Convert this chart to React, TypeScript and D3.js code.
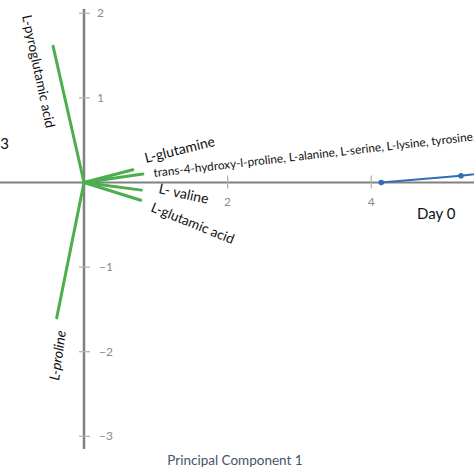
import React, { useEffect, useRef } from 'react';
import * as d3 from 'd3';

// loading vectors (PC1, PC3)
const loadingNames = ['L-pyroglutamic acid', 'L-proline', 'L-glutamine', 'trans-4-hydroxy-l-proline', 'L- valine', 'L-glutamic acid'];
const loadingX = [-0.43, -0.38, 0.68, 0.82, 0.8, 0.79];
const loadingY = [1.61, -1.6, 0.15, 0.1, -0.09, -0.21];

// sample trajectory
const dayX = [4.14, 5.25, 6.6];
const dayY = [0.0, 0.08, 0.2];

const xTicks = [2, 4];
const yTicks = [2, 1, -1, -2, -3];

const App = () => {
    const svgRef = useRef(null);

    useEffect(() => {
        const width = 474;
        const height = 474;
        const svg = d3.select(svgRef.current);
        svg.selectAll('*').remove();
        svg.attr('width', width).attr('height', height);

        const x = d3.scaleLinear().domain([0, 1]).range([84, 155.8]);
        const y = d3.scaleLinear().domain([0, 1]).range([182.5, 97.9]);
        const font = 'Lato, "Open Sans", sans-serif';
        const axisColor = '#808080';

        // axes
        svg.append('line')
            .attr('x1', 0).attr('x2', width)
            .attr('y1', y(0)).attr('y2', y(0))
            .attr('stroke', axisColor).attr('stroke-width', 2);
        svg.append('line')
            .attr('x1', x(0)).attr('x2', x(0))
            .attr('y1', y(2.05)).attr('y2', y(-3.15))
            .attr('stroke', axisColor).attr('stroke-width', 2.5);

        // ticks
        svg.selectAll('.xt').data(xTicks).enter().append('line')
            .attr('x1', d => x(d)).attr('x2', d => x(d))
            .attr('y1', y(0) - 7).attr('y2', y(0) + 6)
            .attr('stroke', '#b0b0b0').attr('stroke-width', 1.2);
        svg.selectAll('.xl').data(xTicks).enter().append('text')
            .attr('x', d => x(d)).attr('y', y(0) + 23)
            .attr('text-anchor', 'middle')
            .style('font-family', font).style('font-size', '12px')
            .attr('fill', '#8a8a8a')
            .text(d => d);
        svg.selectAll('.yt').data(yTicks).enter().append('line')
            .attr('x1', x(0) - 5).attr('x2', x(0) + 6)
            .attr('y1', d => y(d)).attr('y2', d => y(d))
            .attr('stroke', '#b0b0b0').attr('stroke-width', 1.2);
        svg.selectAll('.yl').data(yTicks).enter().append('text')
            .attr('x', d => (d < 0 ? x(0) + 15 : x(0) + 13))
            .attr('y', d => y(d) + 4)
            .style('font-family', font).style('font-size', '12px')
            .attr('fill', '#8a8a8a')
            .text(d => (d < 0 ? '\u2212' + Math.abs(d) : d));

        // loading lines
        svg.selectAll('.ld').data(loadingX).enter().append('line')
            .attr('x1', x(0)).attr('y1', y(0))
            .attr('x2', d => x(d)).attr('y2', (d, i) => y(loadingY[i]))
            .attr('stroke', '#4cae4c').attr('stroke-width', 3)
            .attr('stroke-linecap', 'round');

        // trajectory
        const pts = dayX.map((d, i) => [x(d), y(dayY[i])]);
        svg.append('path')
            .attr('d', d3.line()(pts))
            .attr('fill', 'none').attr('stroke', '#2f6eb5').attr('stroke-width', 2);
        svg.selectAll('.pt').data(pts).enter().append('circle')
            .attr('cx', d => d[0]).attr('cy', d => d[1]).attr('r', 2.8)
            .attr('fill', '#2f6eb5');

        const label = (txt, px, py, rot, size, italic = false) => {
            svg.append('text')
                .attr('transform', `translate(${px},${py}) rotate(${rot})`)
                .style('font-family', font).style('font-size', size + 'px')
                .style('font-style', italic ? 'italic' : 'normal')
                .attr('fill', '#111')
                .text(txt);
        };

        label(loadingNames[0], 22, 16, 78, 13.5);
        label(loadingNames[1], 59, 381, -82, 14, true);
        label(loadingNames[2], 146, 163, -14, 14);
        label(loadingNames[3] + ', L-alanine, L-serine, L-lysine, tyrosine, L-leucine', 154, 177, -6.5, 11.8);
        label(loadingNames[4], 158, 193, 12.5, 14);
        label(loadingNames[5], 150, 211, 22, 13.5);

        svg.append('text')
            .attr('x', 417).attr('y', 219)
            .style('font-family', font).style('font-size', '15px')
            .attr('fill', '#111').text('Day 0');
        svg.append('text')
            .attr('x', 9).attr('y', 149).attr('text-anchor', 'end')
            .style('font-family', font).style('font-size', '15px')
            .attr('fill', '#111').text('Day 3');

        svg.append('text')
            .attr('x', 235).attr('y', 465).attr('text-anchor', 'middle')
            .style('font-family', font).style('font-size', '13.5px')
            .attr('fill', '#44546a').text('Principal Component 1');
    }, []);

    return (
        <div style={{ position: 'fixed', left: 0, top: 0, width: 474, height: 474, background: '#fff' }}>
            <svg ref={svgRef} style={{ display: 'block' }}></svg>
        </div>
    );
};

export default App;
